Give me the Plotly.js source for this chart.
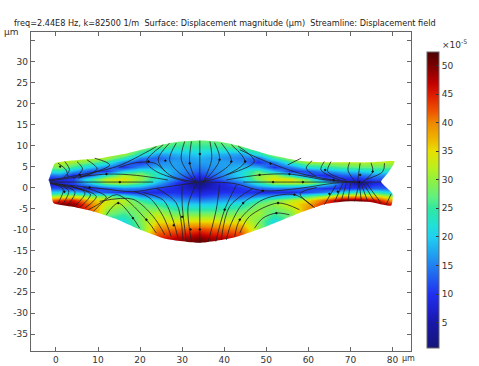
<!DOCTYPE html>
<html><head><meta charset="utf-8">
<script src="https://cdn.plot.ly/plotly-3.0.1.min.js"></script>
<style>html,body{margin:0;padding:0;background:#fff}#c{width:479px;height:366px}</style>
</head><body><div id="c"></div>
<script>
// Displacement magnitude (x10^-5 um): one list per x station, entries follow yRows
const yRows=[-14,-12,-10,-8,-6,-4,-3,-2,-1,0,1,2,3,4,5,6,7,8,10,12];
const xStations=[-2,1,4,8,12,16,20,24,28,31,34,37,40,44,48,52,56,60,64,68,72,76,80];
const magnitudeByStation=[
[52,52,52,52,50,48,40,30,20,12,6,8,14,22,28,31,32,32,32,32],
[50,50,50,50,50,50,44,32,21,12,8,9,15,23,29,32,32,32,32,32],
[52,52,52,52,51,49,45,33,20,9,11,11,9,17,25,31,32,32,32,32],
[46,46,46,46,44,41,37,29,15,9,19,24,11,12,20,28,32,32,32,32],
[23,23,23,23,29,33,34,28,12,12,29,33,23,10,15,24,31,32,32,32],
[19,19,19,21,26,31,32,24,10,16,31,35,31,20,10,15,24,31,32,32],
[30,30,27,29,29,28,25,17,9,15,26,30,30,25,16,10,15,23,31,32],
[46,44,40,35,32,25,20,14,9,11,18,22,23,22,18,15,13,17,28,31],
[50,47,41,34,28,21,17,13,10,9,11,15,16,17,17,17,16,18,25,30],
[52,48,42,35,28,20,16,12,9,7,6,10,13,15,16,16,17,19,25,29],
[53,50,43,35,28,20,15,11,8,5,1.5,6,10,13,15,17,18,20,25,29],
[52,48,42,35,28,20,16,12,9,7,6,10,13,15,16,17,17,19,25,29],
[51,47,41,34,28,21,17,13,10,8,9,14,16,17,17,17,16,18,26,30],
[48,45,40,34,29,23,18,13,10,10,14,19,21,21,19,16,15,17,28,31],
[30,30,30,29,31,28,24,16,9,13,23,29,30,27,18,10,13,22,31,32],
[21,21,21,21,26,30,28,18,9,15,30,35,31,19,10,15,24,31,32,32],
[28,28,28,28,29,34,32,21,9,15,31,35,22,10,15,25,31,32,32,32],
[41,41,41,41,41,38,35,26,12,12,30,27,11,12,22,31,32,32,32,32],
[47,47,47,47,47,45,42,31,15,10,23,12,9,16,24,31,32,32,32,32],
[51,51,51,51,51,51,50,38,21,10,11,9,13,19,26,32,33,33,33,33],
[51,51,51,51,51,51,50,38,24,11,3,9,14,20,27,32,33,33,33,33],
[50,50,50,50,50,50,46,36,24,13,9,12,16,22,27,32,33,33,33,33],
[46,46,46,46,46,45,38,30,20,13,10,12,16,22,27,32,33,33,33,33]
];
// Body outline
const upperX=[-1.8,-1.2,-0.2,10.4,17,23.9,29,34.2,39,43.3,50,57.9,64,69,75,80.5,79,77.3];
const upperY=[1.8,3.4,5.8,7,8.2,9.9,10.9,11.2,10.9,10,8,6.4,6,6,6,6.2,3.6,1.4];
const lowerX=[-1.8,-1.2,-0.6,4,8.9,14,19.9,26.3,34.2,42.1,50,57.9,64.3,69.8,75,79.7,80,77.3];
const lowerY=[1.8,0,-3.7,-4.6,-5.7,-7.4,-10,-12.3,-13.2,-12,-9.3,-6.1,-3.9,-3.3,-3.5,-4.3,-1.5,1.4];
// Streamlines, one [xs, ys] per line
const streamlines=[
[[0.5,2.4,2.9],[5.8,4.2,2.5]],[[2.1,3.2,1.7],[6.2,4.2,2.2]],[[5,6.3,4.1],[6.2,4.4,2]],
[[7.4,9.8,5.3],[6.6,4.4,2.2]],[[9.2,12.8,5.7],[7,5.4,2.5]],
[[-1.4,5.7,14.4,21.1,23.9],[1.8,3,5,8.2,9.8]],
[[15,19.5,23.5,26],[4.8,6,5.8,3.8]],
[[-1.4,12,19.1,26.6],[1.6,3.2,2.9,1.8]],[[-1.4,2.5,15.2,23.1],[1.3,1.3,1.3,1.3]],
[[-1.4,6.5,11.2,18.3,23.9,34.2],[1,0.2,-0.3,-1,-0.2,1.3]],
[[0.5,1.7,-1.4],[-3.7,-0.4,1]],[[1.7,3,-1],[-3.9,-0.7,1]],[[2.9,4.5,-0.6],[-4.1,-1,0.9]],[[4.5,6.9,0.1],[-4.4,-1.2,0.9]],
[[5.7,8.2,1.5],[-4.7,-1.6,0.6]],[[6.9,9.6,3.3],[-4.9,-2.1,0.4]],[[7.7,12,6.5],[-5.3,-2.3,0.1]],
[[8.9,14.4,21.5,23.9],[-5.7,-1.7,-7.7,-10.9]],[[10.4,18.3,23.1,25.9],[-3.3,-2.8,-6.9,-11.3]],
[[12,14.8,18.3,19.9],[-6.5,-3.7,-7.3,-9.7]],
[[18.7,22.3,25.5,27.4],[-1,-2.5,-6.9,-11.7]],[[20.7,25.5,27.8,29],[-1.2,-3,-7.7,-12.1]],
[[23.9,28.6,30.2],[-0.2,-3.7,-12.5]],[[30,30,31],[0.4,-4,-12.8]],[[33.4,31.4,32.2],[1,-4.5,-12.9]],[[34.2,34.2],[1,-13.2]],
[[33.4,31.8,32.2],[1.4,5.8,11]],[[33,29.8,30.6],[1.4,6.6,11]],[[33.4,29.4,27,28.6],[1.4,3.4,6.6,10.6]],
[[33,27,24.3,27],[1.3,3,6.6,10.6]],[[31,23.9,21.5,25.5],[1.4,3.8,6.2,10.2]],
[[34.2,34.2],[1.3,11.2]],
[[36.6,37,35],[11,6.6,1.4]],[[37.7,38.9,35],[10.7,6.6,1.3]],[[39.3,41.7,36.6,34.6],[10.6,6.2,2.2,1.3]],
[[41.7,44.9,40.5,34.6],[10.2,6.2,3,1.3]],[[43.3,47.2,40.5],[9.9,6.2,3]],
[[43.7,50,57.9,65.8,72.1],[9,6.2,3.4,1.8,1.3]],[[40.5,48.4,55.5,64.2,71.4],[1.8,3,3.2,1.8,1.3]],
[[44.5,51.6,58.7,67.4],[1.3,1.3,1.3,1.3]],[[34.2,42.1,49.2,57.9,65.8,72.1],[1.3,1,-0.8,-0.2,1,1.3]],
[[55.1,58.3],[5.4,7]],[[67.4,63,63.8],[1.8,4.2,6.2]],[[69,64.6,65.4],[1.8,3.8,6.2]],[[61.9,59.5,60.9],[2.6,4.6,6.4]],
[[71,69.4,69.8],[1.5,4.2,6]],[[71.7,72.3],[1.3,5.8]],[[72.9,75.3,74.9],[1.3,3.8,5.9]],[[73.7,77.7,78.1],[1.9,3.8,5.8]],
[[72.1,77.3],[1.3,1.3]],
[[72.1,71],[1,-3.3]],[[72.1,72.6],[1,-3.3]],[[72.5,74.1],[1,-3.3]],[[73,75.7],[1.1,-3.3]],[[73.7,77.3],[1.1,-3.7]],
[[70,69.4],[1,-3.3]],[[69,67.8],[1,-3.3]],[[68.2,66.2],[1,-3.5]],[[66.6,63.8],[0.6,-4.1]],[[79.7,78.5],[-1.5,-4.1]],
[[62,58,61.5],[0,-1.5,-4.8]],
[[55.5,52.4,49.2,47.2],[-6.5,-6.1,-7.3,-9.7]],[[57.9,52.8,46,43.7],[-5.3,-3.7,-6.9,-10.9]],
[[61.1,56.7,49.2,43.7,42.5],[-4.5,-1.7,-2.9,-7.7,-11.7]],[[49.2,44.5,41.7,40.5],[-0.8,-3.7,-8.5,-12.5]],
[[46.8,41.3,39.3],[-0.2,-4.5,-12.5]],[[42.9,40.1,38],[0.6,-5.3,-12.9]],[[38.9,38.1,36.2],[0.6,-5.3,-12.9]]
];
const arrowX=[1,5.7,12,15.2,8,2,14.8,18.3,21.5,28,30,32,34.2,34.2,31.8,26,22,38.9,41.7,45,51,48.4,55.5,51.6,58.7,49.2,66,72.1,44.5,52.4,52.8,56.7,43.7,40.1,64,67,65,72.3,75.3];
const arrowY=[5,3,3.2,1.3,0,-1,-3.7,-7.3,-7.7,-9,-7,-10,-10,8,5.8,6.4,6.2,6.6,6.2,6.2,5.7,3,3.2,1.3,1.3,-0.8,1.8,1.3,-3.7,-6.1,-3.7,-1.7,-7.7,-5.3,4.2,-1,-1.5,3,3.8];
const tickVals=[-35,-30,-25,-20,-15,-10,-5,0,5,10,15,20,25,30,35];
const tickLabels=['-35','-30','-25','-20','-15','-10','-5','0','5','10','15','20','25','30',''];
const xTickVals=[0,10,20,30,40,50,60,70,80];
const colourTicks=[5,10,15,20,25,30,35,40,45,50];
const zMin=0.6, zMax=52.4;
const colourStops=[[0.6,'#15157a'],[5,'#1818a8'],[7,'#1c20c8'],[10,'#2030f0'],[12,'#2050f0'],[15,'#2080f0'],[17,'#20a0f0'],[20,'#20d0f0'],[22,'#20e0d8'],[25,'#30e8a0'],[27,'#60f080'],[30,'#90f040'],[32,'#b8f020'],[35,'#e8e000'],[37,'#eeb800'],[40,'#ee8800'],[42,'#ee5500'],[45,'#dd1a00'],[47,'#c00000'],[50,'#7a0000'],[52.4,'#4d0000']];

const zGrid=yRows.map((_,j)=>xStations.map((_,i)=>magnitudeByStation[i][j]));
const scale=colourStops.map(s=>[(s[0]-zMin)/(zMax-zMin),s[1]]);
const xL=-5.93,xR=84.4,yT=37.1,yB=-39;
const sx=[],sy=[];
streamlines.forEach(s=>{sx.push(...s[0],null);sy.push(...s[1],null);});
const maskTopX=[xL,...upperX,xR,xR,xL], maskTopY=[upperY[0],...upperY,upperY[upperY.length-1],yT,yT];
const maskBotX=[xL,...lowerX,xR,xR,xL], maskBotY=[lowerY[0],...lowerY,lowerY[lowerY.length-1],yB,yB];
const traces=[
 {type:'heatmap',x:xStations,y:yRows,z:zGrid,zsmooth:'best',zmin:zMin,zmax:zMax,colorscale:scale,hoverinfo:'skip',
  colorbar:{thickness:12,thicknessmode:'pixels',len:296,lenmode:'pixels',x:1.0434,xanchor:'left',xpad:0,y:1-(52-32+148)/319.5,yanchor:'middle',ypad:0,
   tickvals:colourTicks,ticks:'inside',ticklen:3,tickcolor:'#333',tickwidth:1,tickprefix:'\u00a0',outlinecolor:'#666',outlinewidth:1,tickfont:{family:'DejaVu Sans',size:9,color:'#333'},borderwidth:0}},
 {type:'scatter',mode:'lines',x:maskTopX,y:maskTopY,fill:'toself',fillcolor:'#fff',line:{width:0,shape:'spline',smoothing:0.5,color:'#fff'},hoverinfo:'skip',showlegend:false},
 {type:'scatter',mode:'lines',x:maskBotX,y:maskBotY,fill:'toself',fillcolor:'#fff',line:{width:0,shape:'spline',smoothing:0.5,color:'#fff'},hoverinfo:'skip',showlegend:false},
 {type:'scatter',mode:'lines',x:sx,y:sy,line:{color:'#222',width:0.8,shape:'spline',smoothing:0.9},hoverinfo:'skip',showlegend:false},
 {type:'scatter',mode:'markers',x:arrowX,y:arrowY,marker:{color:'#111',size:2.2,symbol:'diamond'},hoverinfo:'skip',showlegend:false}
];
const axisBase={showgrid:false,zeroline:false,showline:true,linecolor:'#666',linewidth:1.2,mirror:'ticks',ticks:'inside',ticklen:4,tickcolor:'#666',tickwidth:1,tickfont:{family:'DejaVu Sans',size:9,color:'#333'}};
const layout={width:479,height:366,margin:{l:31,r:67.5,t:32,b:14.5},paper_bgcolor:'#fff',plot_bgcolor:'#fff',showlegend:false,
 xaxis:{...axisBase,range:[xL,xR],tickmode:'array',tickvals:xTickVals,ticktext:xTickVals.map(String)},
 yaxis:{...axisBase,range:[yB,yT],tickmode:'array',tickvals:tickVals,ticktext:tickLabels},
 annotations:[
  {xref:'paper',yref:'paper',x:(12-31)/380.5,y:1,xanchor:'left',yanchor:'bottom',yshift:2,showarrow:false,text:'freq=2.44E8 Hz, k=82500 1/m  Surface: Displacement magnitude (µm)  Streamline: Displacement field',font:{family:'DejaVu Sans',size:8.15,color:'#222'}},
  {xref:'paper',yref:'paper',x:(2-31)/380.5,y:1,xanchor:'left',yanchor:'middle',showarrow:false,text:'µm',font:{family:'DejaVu Sans',size:9,color:'#333'}},
  {xref:'paper',yref:'paper',x:(400-31)/380.5,y:0,xanchor:'left',yanchor:'top',yshift:-1,showarrow:false,text:'µm',font:{family:'DejaVu Sans',size:8,color:'#333'}},
  {xref:'paper',yref:'paper',x:(441-31)/380.5,y:(351.5-44)/319.5,xanchor:'left',yanchor:'middle',showarrow:false,text:'×10<sup>-5</sup>',font:{family:'DejaVu Sans',size:9,color:'#333'}}
 ]};
Plotly.newPlot('c',traces,layout,{displayModeBar:false,staticPlot:true});
</script></body></html>
